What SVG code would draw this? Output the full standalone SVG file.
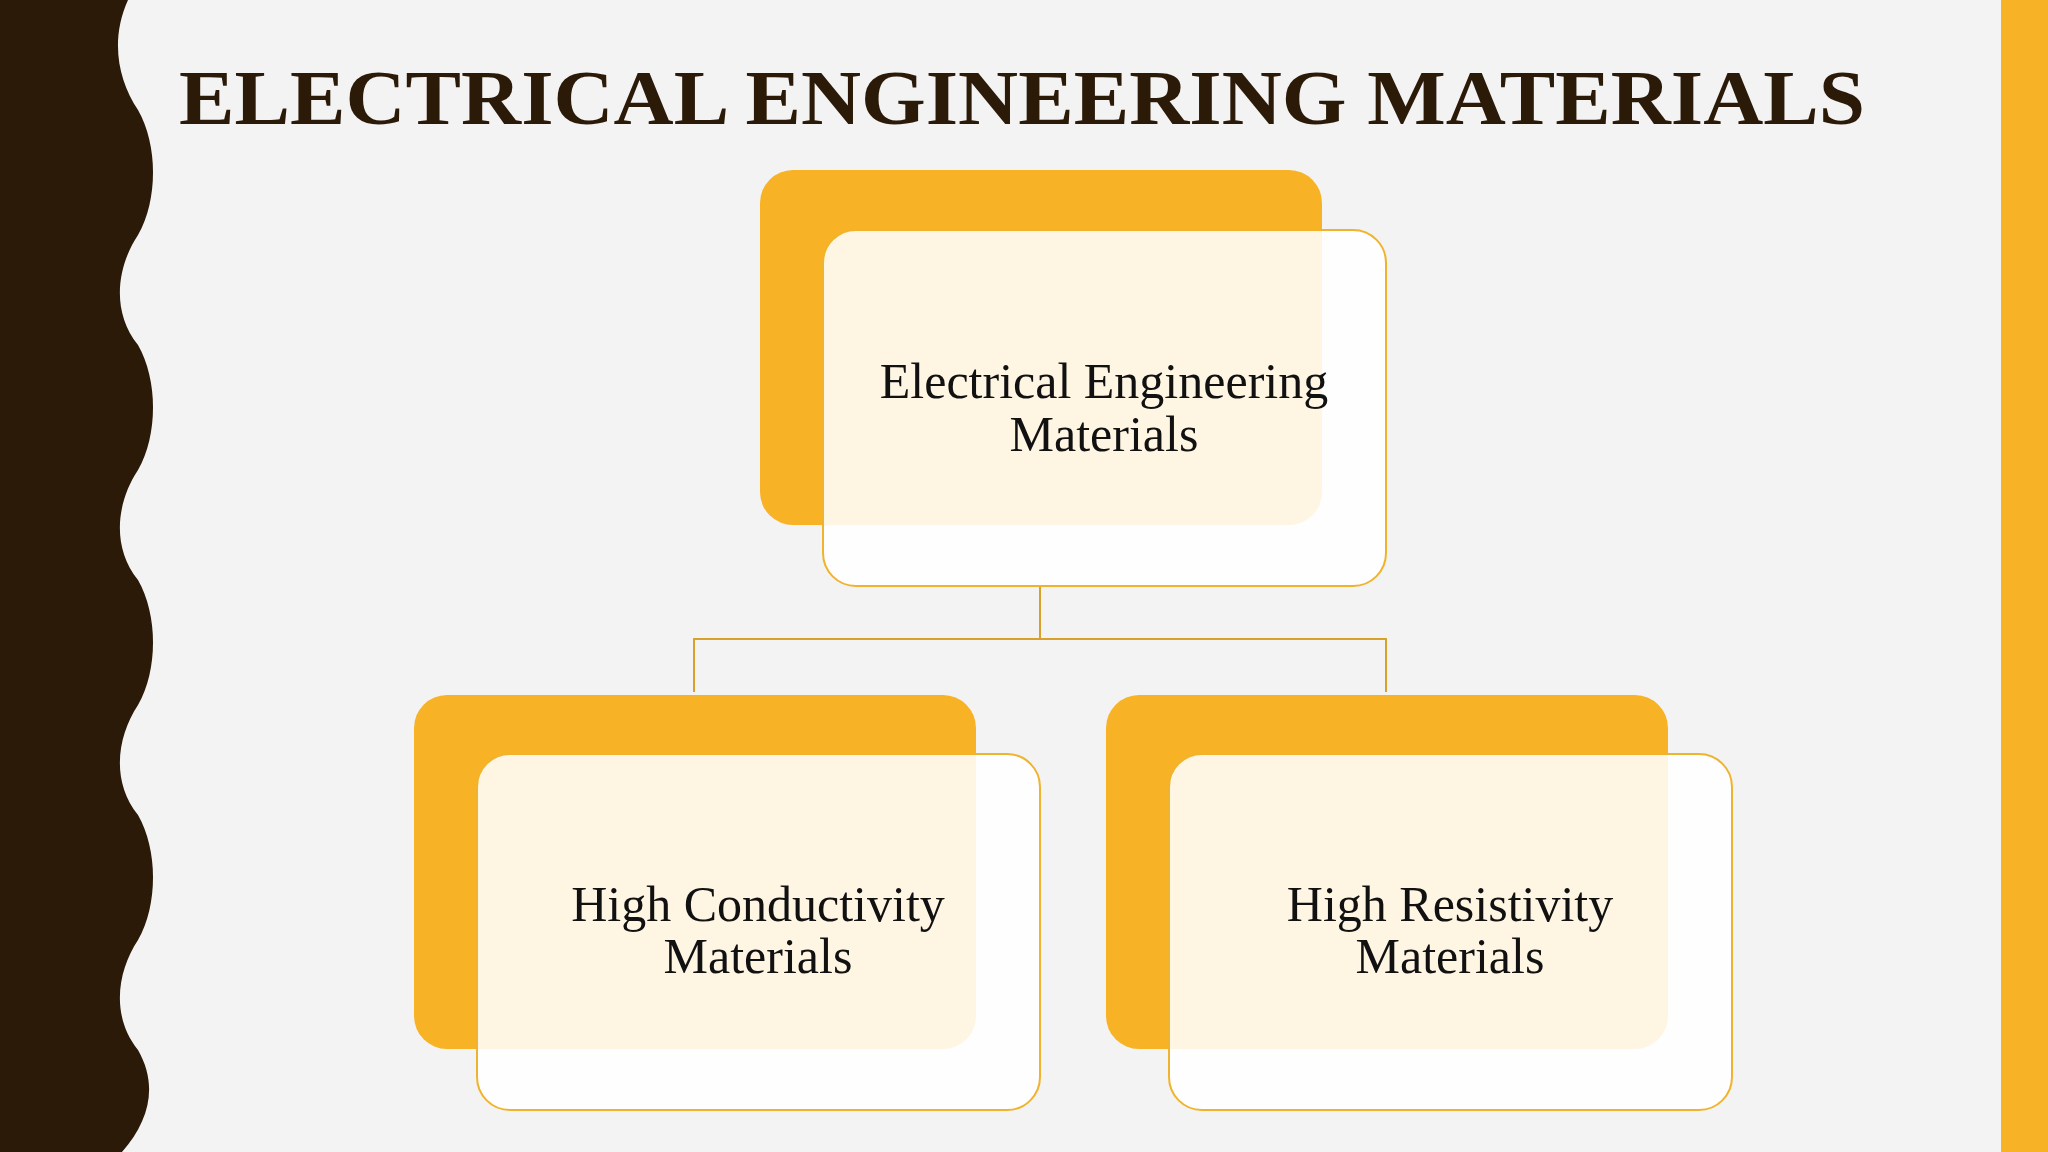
<svg xmlns="http://www.w3.org/2000/svg" width="2048" height="1152" viewBox="0 0 2048 1152">
<style>
.back{fill:#F8B226}
.front{fill:#FFFFFF;fill-opacity:0.87;stroke:#F0B32E;stroke-width:2}
.lbl{font-family:"Liberation Serif",serif;font-size:50px;fill:#111;text-anchor:middle}
.con{fill:none;stroke:#D9A12A;stroke-width:2}
</style>
<rect width="2048" height="1152" fill="#F3F3F3"/>
<path d="M0 0 H128 C110 40,118 80,138 110 C158 145,158 200,138 235 C118 265,110 310,138 345 C158 380,158 435,138 470 C118 500,110 545,138 580 C158 615,158 670,138 705 C118 735,110 780,138 815 C158 850,158 905,138 940 C118 970,110 1015,138 1050 C158 1085,150 1120,122 1152 H0 Z" fill="#2B1A08"/>
<rect x="2001" y="0" width="47" height="1152" fill="#F8B226"/>
<text x="179" y="124" textLength="1686" lengthAdjust="spacingAndGlyphs" font-family="Liberation Serif,serif" font-weight="bold" font-size="78" fill="#2B1A08">ELECTRICAL ENGINEERING MATERIALS</text>
<g id="connectors">
<path class="con" d="M1040 586 V640 M694 692 V639 H1386 V692"/>
</g>
<g id="n-top">
<rect class="back" x="760" y="170" width="562" height="355" rx="33"/>
<rect class="front" x="823" y="230" width="563" height="356" rx="33"/>
<text class="lbl" x="1104" y="398">Electrical Engineering</text>
<text class="lbl" x="1104" y="451">Materials</text>
</g>
<g id="n-left">
<rect class="back" x="414" y="695" width="562" height="354" rx="33"/>
<rect class="front" x="477" y="754" width="563" height="356" rx="33"/>
<text class="lbl" x="758" y="921">High Conductivity</text>
<text class="lbl" x="758" y="973">Materials</text>
</g>
<g id="n-right">
<rect class="back" x="1106" y="695" width="562" height="354" rx="33"/>
<rect class="front" x="1169" y="754" width="563" height="356" rx="33"/>
<text class="lbl" x="1450" y="921">High Resistivity</text>
<text class="lbl" x="1450" y="973">Materials</text>
</g>
</svg>
